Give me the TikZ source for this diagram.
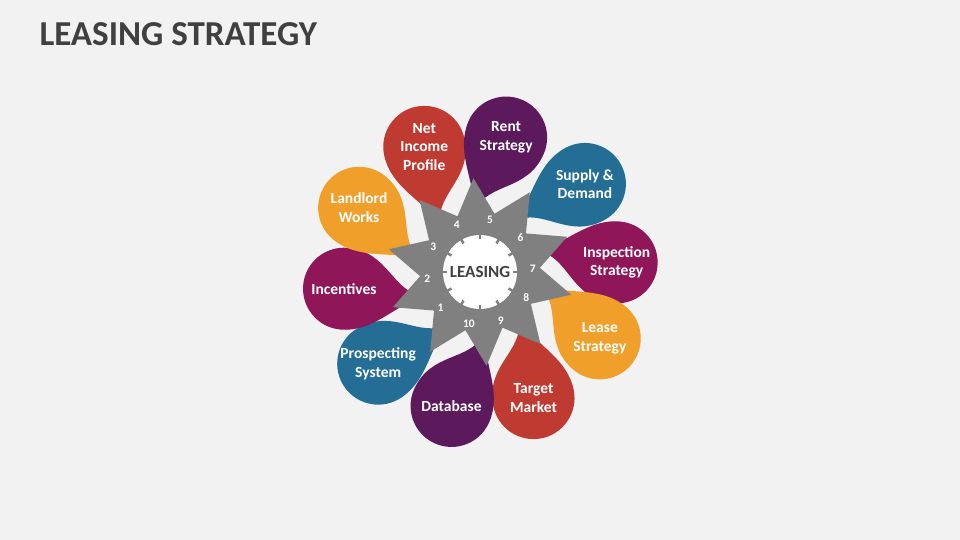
\documentclass[tikz,border=0pt]{standalone}
\usepackage{fontspec}
\setmainfont{Carlito}
\definecolor{bg}{HTML}{F2F2F2}
\definecolor{cred}{HTML}{BF3A30}
\definecolor{cpur}{HTML}{5C1A5C}
\definecolor{cblu}{HTML}{246E96}
\definecolor{cmag}{HTML}{8E1659}
\definecolor{cora}{HTML}{F09F2A}
\definecolor{cgray}{HTML}{808080}
\definecolor{ctitle}{HTML}{404040}
\tikzset{petaltext/.style={text=white,font=\bfseries\fontsize{15.5}{18.5}\selectfont,align=center},
numtext/.style={text=white,font=\bfseries\fontsize{11.5}{13}\selectfont}}
\newcommand\petal[4]{%
\pgfmathsetmacro\cx{137*cos(#1)}\pgfmathsetmacro\cy{137*sin(#1)}%
\pgfmathsetmacro\tx{62*cos(#1+16)}\pgfmathsetmacro\ty{62*sin(#1+16)}%
\pgfmathsetmacro\dir{atan2(\cy-\ty,\cx-\tx)}%
\pgfmathsetmacro\dd{veclen(\cx-\tx,\cy-\ty)}%
\pgfmathsetmacro\rr{41}%
\begin{scope}[shift={(\tx,\ty)},rotate=\dir]
\fill[#2] (0,0) .. controls ({0.4*\dd},{-0.05*\rr}) and ({\dd-\rr},-\rr) .. (\dd,-\rr)
 arc[start angle=-90,end angle=90,radius=\rr]
 .. controls ({\dd-0.8*\rr},\rr) and ({0.35*\dd},{0.3*\rr}) .. (0,0) -- cycle;
\end{scope}
\node[petaltext] (p#4) at (\cx,\cy) {#3};}
\begin{document}
\begin{tikzpicture}[x=1pt,y=1pt]
\fill[bg] (-480,-268) rectangle (480,272);
\useasboundingbox (-480,-268) rectangle (480,272);
\node[anchor=west,text=ctitle,font=\bfseries\fontsize{35}{38}\selectfont] (title) at (-444,238) {LEASING STRATEGY};
\petal{114}{cred}{Net\\Income\\Profile}{4}
\petal{79}{cpur}{Rent\\Strategy}{5}
\petal{40}{cblu}{Supply \&\\Demand}{6}
\petal{4}{cmag}{Inspection\\Strategy}{7}
\petal{-29}{cora}{Lease\\Strategy}{8}
\petal{-67}{cred}{Target\\Market}{9}
\petal{-102}{cpur}{Database}{10}
\petal{-138}{cblu}{Prospecting\\System}{1}
\petal{-173}{cmag}{Incentives}{2}
\petal{152}{cora}{Landlord\\Works}{3}
% star
\fill[cgray] (22:94) \foreach \k in {0,...,9}{ -- ({22+36*\k}:94) -- ({40+36*\k}:60)} -- cycle;
\foreach \a/\n in {-138/1,-173/2,152/3,116/4,79/5,40/6,4/7,-29/8,-67/9,-102/10}
  \node[numtext] (n\n) at (\a:53) {\n};
\fill[white] (0,0) circle (37);
\foreach \a in {0,30,...,330} \draw[cgray,line width=2.5pt] (\a:33) -- (\a:37.5);
\node[text=ctitle,font=\bfseries\fontsize{17}{19}\selectfont] (center) at (0,0) {LEASING};
\end{tikzpicture}
\end{document}
